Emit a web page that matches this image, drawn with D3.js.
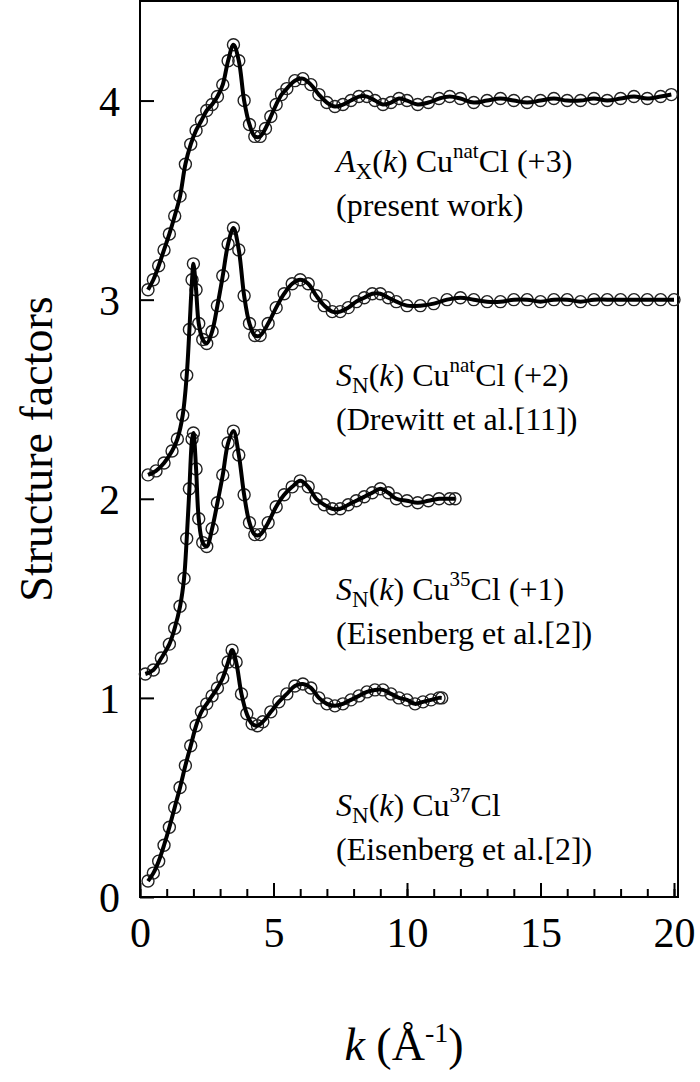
<!DOCTYPE html>
<html><head><meta charset="utf-8">
<script src="https://cdn.jsdelivr.net/npm/d3@7"></script>
<style>body{margin:0;background:#fff}</style>
</head><body>
<svg id="c" width="700" height="1082"></svg>
<script>
// data: [k, S(k)] without offsets
var axData = [[0.3,0.05],[0.5,0.1],[0.7,0.17],[0.9,0.25],[1.1,0.33],[1.3,0.42],[1.5,0.52],[1.7,0.68],[1.9,0.78],[2.1,0.85],[2.3,0.9],[2.5,0.95],[2.7,0.98],[2.9,1.02],[3.1,1.08],[3.3,1.2],[3.5,1.28],[3.7,1.2],[3.9,1.0],[4.1,0.88],[4.3,0.82],[4.5,0.82],[4.7,0.86],[4.9,0.92],[5.1,0.98],[5.3,1.03],[5.5,1.06],[5.8,1.1],[6.1,1.11],[6.4,1.08],[6.7,1.03],[7.0,0.99],[7.3,0.97],[7.6,0.98],[7.9,1.0],[8.2,1.02],[8.5,1.02],[8.8,1.0],[9.1,0.98],[9.4,0.99],[9.7,1.01],[10.0,1.0],[10.4,0.98],[10.8,0.99],[11.2,1.01],[11.6,1.02],[12.0,1.01],[12.5,0.99],[13.0,1.0],[13.5,1.01],[14.0,1.0],[14.5,0.99],[15.0,1.0],[15.5,1.01],[16.0,1.0],[16.5,1.0],[17.0,1.01],[17.5,1.0],[18.0,1.01],[18.5,1.02],[19.0,1.01],[19.5,1.02],[19.9,1.03]];
var drewittData = [[0.3,0.12],[0.6,0.14],[0.9,0.18],[1.2,0.24],[1.4,0.3],[1.6,0.42],[1.75,0.62],[1.85,0.85],[1.95,1.1],[2.0,1.18],[2.1,1.05],[2.2,0.88],[2.35,0.8],[2.5,0.78],[2.7,0.84],[2.9,0.97],[3.1,1.12],[3.3,1.28],[3.5,1.36],[3.7,1.25],[3.9,1.02],[4.1,0.88],[4.3,0.82],[4.5,0.82],[4.8,0.88],[5.1,0.96],[5.4,1.03],[5.7,1.08],[6.0,1.1],[6.3,1.08],[6.6,1.02],[6.9,0.97],[7.2,0.94],[7.5,0.94],[7.8,0.96],[8.1,0.99],[8.4,1.01],[8.7,1.03],[9.0,1.03],[9.3,1.01],[9.6,0.99],[10.0,0.97],[10.5,0.97],[11.0,0.98],[11.5,1.0],[12.0,1.01],[12.5,1.0],[13.0,0.99],[13.5,0.99],[14.0,1.0],[14.5,1.0],[15.0,0.99],[15.5,1.0],[16.0,1.0],[16.5,0.99],[17.0,1.0],[17.5,1.0],[18.0,1.0],[18.5,1.0],[19.0,1.0],[19.5,1.0],[20.0,1.0]];
var cu35Data = [[0.2,0.12],[0.5,0.14],[0.8,0.2],[1.1,0.27],[1.3,0.35],[1.5,0.46],[1.65,0.6],[1.75,0.8],[1.85,1.05],[1.95,1.3],[2.0,1.33],[2.1,1.15],[2.2,0.9],[2.35,0.78],[2.5,0.76],[2.7,0.85],[2.9,0.98],[3.1,1.12],[3.3,1.28],[3.5,1.34],[3.7,1.22],[3.9,1.02],[4.1,0.88],[4.3,0.82],[4.5,0.82],[4.8,0.88],[5.1,0.96],[5.4,1.02],[5.7,1.06],[6.0,1.09],[6.3,1.06],[6.6,1.0],[6.9,0.97],[7.2,0.95],[7.5,0.95],[7.8,0.97],[8.1,0.99],[8.4,1.01],[8.7,1.03],[9.0,1.05],[9.3,1.03],[9.6,1.0],[10.0,0.99],[10.4,0.98],[10.8,0.99],[11.2,1.0],[11.6,1.0],[11.8,1.0]];
var cu37Data = [[0.3,0.08],[0.5,0.12],[0.7,0.18],[0.9,0.26],[1.1,0.35],[1.3,0.45],[1.5,0.55],[1.7,0.66],[1.9,0.76],[2.1,0.86],[2.3,0.93],[2.5,0.97],[2.7,1.01],[2.9,1.05],[3.1,1.1],[3.3,1.18],[3.45,1.24],[3.6,1.18],[3.8,1.02],[4.0,0.92],[4.2,0.87],[4.4,0.86],[4.6,0.88],[4.9,0.93],[5.2,0.98],[5.5,1.02],[5.8,1.06],[6.1,1.07],[6.4,1.05],[6.7,1.0],[7.0,0.97],[7.3,0.96],[7.6,0.97],[7.9,0.99],[8.2,1.01],[8.5,1.03],[8.8,1.04],[9.1,1.04],[9.4,1.02],[9.7,1.0],[10.0,0.99],[10.3,0.97],[10.6,0.98],[10.9,0.99],[11.2,1.0],[11.3,1.0]];
var offsets = [3, 2, 1, 0];
var xTicks = [0, 5, 10, 15, 20];
var yTicks = [0, 1, 2, 3, 4];

var FONT = "'Liberation Serif', 'Times New Roman', 'DejaVu Serif', serif";
var svg = d3.select("#c").attr("font-family", FONT);
var x = d3.scaleLinear().domain([0, 20]).range([140, 674]);
var y = d3.scaleLinear().domain([0, 4.5]).range([897, 1]);

svg.append("rect").attr("x", 140).attr("y", 1).attr("width", 538).attr("height", 896)
  .attr("fill", "none").attr("stroke", "#000").attr("stroke-width", 2);

// ticks, pointing inward
var xa = svg.append("g").attr("transform", "translate(0,897)")
  .call(d3.axisBottom(x).tickValues(xTicks).tickSize(-14).tickFormat(d3.format("d")).tickPadding(20));
svg.append("g").attr("transform", "translate(0,897)")
  .call(d3.axisBottom(x).tickValues(d3.range(0, 21, 1)).tickSize(-8).tickFormat(""));
var ya = svg.append("g").attr("transform", "translate(140,0)")
  .call(d3.axisLeft(y).tickValues(yTicks).tickSize(-14).tickFormat(d3.format("d")).tickPadding(20));
svg.selectAll("g").attr("font-family", FONT);
svg.selectAll(".domain").remove();
svg.selectAll(".tick line").attr("stroke-width", 2);
xa.selectAll("text").attr("font-size", 42).attr("fill", "#000");
ya.selectAll("text").attr("font-size", 42).attr("fill", "#000").attr("dy", "0.35em");

var series = [axData, drewittData, cu35Data, cu37Data];
var line = d3.line().x(function(d){ return x(d[0]); }).y(function(d){ return y(d[1]); })
  .curve(d3.curveCatmullRom);
series.forEach(function(data, i){
  var pts = data.map(function(d){ return [d[0], d[1] + offsets[i]]; });
  svg.append("g").selectAll("circle").data(pts).enter().append("circle")
    .attr("cx", function(d){ return x(d[0]); })
    .attr("cy", function(d){ return y(d[1]); })
    .attr("r", 6).attr("fill", "none").attr("stroke", "#222").attr("stroke-width", 1.4);
  svg.append("path").datum(pts).attr("d", line)
    .attr("fill", "none").attr("stroke", "#000").attr("stroke-width", 4);
});

// labels
var labels = [
  {y: 172, fn: "A", sub: "X", sup: "nat", tail: "Cl (+3)", ref: "(present work)"},
  {y: 386, fn: "S", sub: "N", sup: "nat", tail: "Cl (+2)", ref: "(Drewitt et al.[11])"},
  {y: 600, fn: "S", sub: "N", sup: "35", tail: "Cl (+1)", ref: "(Eisenberg et al.[2])"},
  {y: 816, fn: "S", sub: "N", sup: "37", tail: "Cl", ref: "(Eisenberg et al.[2])"}
];
labels.forEach(function(l){
  var t = svg.append("text").attr("x", 336).attr("y", l.y).attr("font-size", 32).attr("fill", "#000");
  t.append("tspan").attr("font-style", "italic").text(l.fn);
  t.append("tspan").attr("font-size", 23).attr("dy", 7).text(l.sub);
  t.append("tspan").attr("dy", -7).text("(");
  t.append("tspan").attr("font-style", "italic").text("k");
  t.append("tspan").text(") Cu");
  t.append("tspan").attr("font-size", 21).attr("dy", -14).text(l.sup);
  t.append("tspan").attr("dy", 14).text(l.tail);
  svg.append("text").attr("x", 336).attr("y", l.y + 44).attr("font-size", 32).attr("fill", "#000").text(l.ref);
});

// axis titles
svg.append("text").attr("transform", "translate(52,449) rotate(-90)").attr("text-anchor", "middle")
  .attr("font-size", 46).text("Structure factors");
var xt = svg.append("text").attr("x", 404).attr("y", 1060).attr("text-anchor", "middle").attr("font-size", 46);
xt.append("tspan").attr("font-style", "italic").text("k");
xt.append("tspan").text(" (Å");
xt.append("tspan").attr("font-size", 28).attr("dy", -18).text("-1");
xt.append("tspan").attr("dy", 18).text(")");
</script>
</body></html>
